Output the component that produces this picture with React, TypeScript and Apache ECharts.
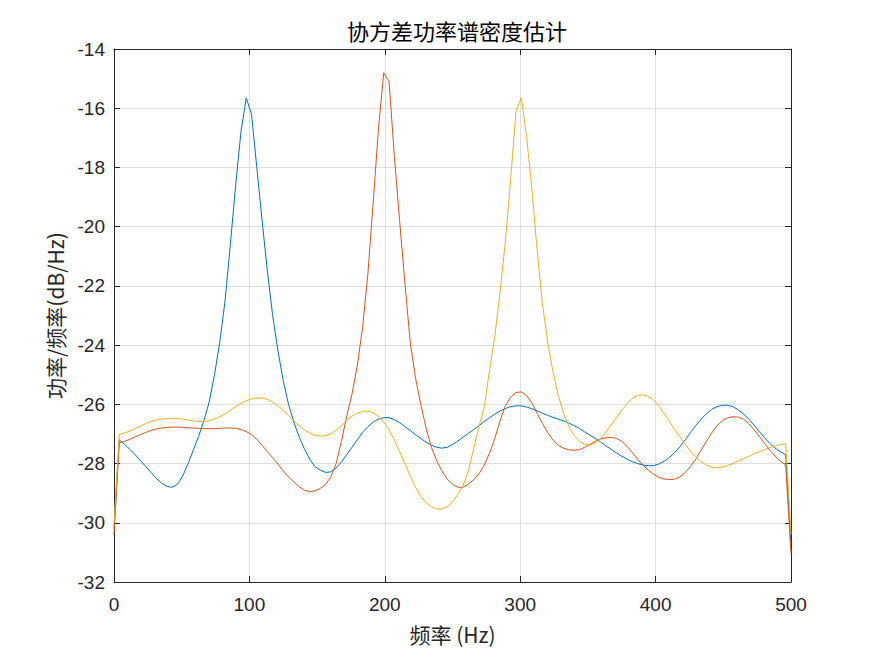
import React, { useEffect, useRef } from "react";
import * as echarts from "echarts";

// Frequency bins (Hz): 129 bins from 0 to 500 Hz
const binCount = 129;
const freqs: number[] = Array.from({ length: binCount }, (_, i) => (i * 500) / (binCount - 1));

const xTicks = [0, 100, 200, 300, 400, 500];
const yTicks = [-32, -30, -28, -26, -24, -22, -20, -18, -16, -14];

const series1: number[] = [
  -30.2, -27.2, -27.35, -27.52, -27.7, -27.9, -28.1, -28.3, -28.5, -28.66,
  -28.77, -28.8, -28.7, -28.42, -28.0, -27.55, -27.08, -26.55, -25.92, -25.0,
  -23.9, -22.5, -20.6, -18.6, -16.8, -15.65, -16.2, -18.0, -19.8, -21.5,
  -23.0, -24.2, -25.2, -26.0, -26.6, -27.1, -27.5, -27.85, -28.1, -28.22,
  -28.3, -28.28, -28.15, -27.95, -27.7, -27.45, -27.2, -26.95, -26.75, -26.6,
  -26.5, -26.45, -26.45, -26.52, -26.62, -26.75, -26.88, -27.02, -27.15, -27.28,
  -27.38, -27.45, -27.48, -27.45, -27.36, -27.24, -27.11, -26.98, -26.85, -26.72,
  -26.58, -26.45, -26.33, -26.22, -26.14, -26.08, -26.05, -26.05, -26.09, -26.15,
  -26.22, -26.3, -26.37, -26.44, -26.5, -26.56, -26.63, -26.72, -26.82, -26.93,
  -27.04, -27.15, -27.27, -27.4, -27.52, -27.64, -27.75, -27.85, -27.94, -28.0,
  -28.05, -28.07, -28.07, -28.02, -27.92, -27.8, -27.63, -27.43, -27.2, -26.95,
  -26.72, -26.5, -26.32, -26.17, -26.08, -26.03, -26.03, -26.08, -26.18, -26.32,
  -26.5, -26.7, -26.92, -27.13, -27.32, -27.48, -27.6, -27.7, -30.75,
];

const series2: number[] = [
  -30.4, -27.3, -27.25, -27.18, -27.1, -27.02, -26.95, -26.88, -26.83, -26.8,
  -26.78, -26.77, -26.77, -26.78, -26.79, -26.8, -26.81, -26.82, -26.82, -26.82,
  -26.81, -26.8, -26.8, -26.81, -26.85, -26.92, -27.02, -27.18, -27.38, -27.6,
  -27.8, -28.02, -28.25, -28.45, -28.62, -28.78, -28.9, -28.95, -28.92, -28.84,
  -28.7, -28.45, -28.0, -27.25, -26.4, -25.65, -24.7, -23.4, -21.6, -19.2,
  -16.7, -14.8, -15.1, -17.6, -19.8, -21.9, -23.9, -25.1, -26.0, -26.8,
  -27.45, -27.9, -28.25, -28.52, -28.7, -28.8, -28.8, -28.7, -28.55, -28.35,
  -28.05, -27.65, -27.15, -26.55, -26.05, -25.75, -25.6, -25.58, -25.7, -25.95,
  -26.3, -26.65, -26.95, -27.2, -27.38, -27.48, -27.54, -27.55, -27.53, -27.45,
  -27.35, -27.25, -27.17, -27.13, -27.12, -27.15, -27.25, -27.42, -27.62, -27.85,
  -28.05, -28.22, -28.36, -28.46, -28.52, -28.54, -28.53, -28.45, -28.3, -28.1,
  -27.85, -27.55, -27.25, -26.97, -26.72, -26.55, -26.45, -26.42, -26.43, -26.5,
  -26.65, -26.85, -27.08, -27.32, -27.55, -27.75, -27.92, -28.05, -31.05,
];

const series3: number[] = [
  -30.0, -27.02, -26.97, -26.9, -26.82, -26.73, -26.65, -26.58, -26.53, -26.5,
  -26.48, -26.47, -26.48, -26.5, -26.53, -26.56, -26.58, -26.58, -26.55, -26.5,
  -26.42, -26.32, -26.2, -26.08, -25.97, -25.88, -25.82, -25.79, -25.79, -25.83,
  -25.92, -26.05, -26.2, -26.37, -26.55, -26.72, -26.86, -26.97, -27.04, -27.07,
  -27.06, -27.0, -26.88, -26.72, -26.55, -26.4, -26.3, -26.24, -26.23, -26.28,
  -26.4, -26.6, -26.85, -27.2, -27.6, -28.0, -28.42, -28.8, -29.1, -29.32,
  -29.46, -29.53, -29.54, -29.45, -29.3, -29.05, -28.75, -28.25, -27.5, -26.75,
  -26.1, -24.85, -23.7, -22.2, -20.5, -18.4, -16.1, -15.65, -16.95, -18.7,
  -20.8, -22.6, -23.9, -24.9, -25.7, -26.3, -26.75, -27.05, -27.25, -27.35,
  -27.37, -27.3, -27.15, -26.95, -26.7, -26.45, -26.2, -25.98, -25.8, -25.7,
  -25.68, -25.73, -25.85, -26.05, -26.3, -26.57, -26.85, -27.1, -27.35, -27.58,
  -27.78, -27.93, -28.05, -28.12, -28.14, -28.12, -28.07, -28.0, -27.92, -27.84,
  -27.76, -27.68, -27.6, -27.53, -27.46, -27.4, -27.36, -27.33, -30.4,
];

const colors = ["#0072BD", "#D95319", "#EDB120"];
const titleText = "协方差功率谱密度估计";
const xName = "频率 (Hz)";
const yName = "功率/频率(dB/Hz)";

export default function App() {
  const ref = useRef<HTMLDivElement>(null);
  useEffect(() => {
    if (!ref.current) return;
    const chart = echarts.init(ref.current, undefined, { renderer: "svg" });
    const axisColor = "#262626";
    const gridColor = "#dfdfdf";
    const font = "'Liberation Sans', Arial, Helvetica, sans-serif";
    const cjk = "'Noto Sans CJK SC', 'Liberation Sans', sans-serif";
    const mk = (vals: number[]) => vals.map((v, i) => [freqs[i], v]);
    chart.setOption({
      animation: false,
      backgroundColor: "#ffffff",
      title: {
        text: titleText,
        left: 452,
        top: 14,
        textAlign: "center",
        textStyle: { fontFamily: cjk, fontSize: 22, fontWeight: "normal", color: "#000" },
      },
      grid: { left: 114, right: 84, top: 49, bottom: 74, containLabel: false },
      xAxis: [
        {
          type: "value",
          min: xTicks[0],
          max: xTicks[xTicks.length - 1],
          interval: 100,
          name: xName,
          nameLocation: "middle",
          nameGap: 41,
          nameTextStyle: { fontFamily: cjk, fontSize: 21, color: axisColor },
          axisLine: { show: true, onZero: false, lineStyle: { color: axisColor, width: 1 } },
          axisTick: { show: true, inside: true, length: 6, lineStyle: { color: axisColor } },
          axisLabel: { fontFamily: font, fontSize: 19, color: axisColor, margin: 13 },
          splitLine: { show: true, lineStyle: { color: gridColor, width: 1 } },
        },
        {
          type: "value",
          position: "top",
          min: xTicks[0],
          max: xTicks[xTicks.length - 1],
          interval: 100,
          axisLine: { show: true, onZero: false, lineStyle: { color: axisColor, width: 1 } },
          axisTick: { show: true, inside: true, length: 6, lineStyle: { color: axisColor } },
          axisLabel: { show: false },
          splitLine: { show: false },
        },
      ],
      yAxis: [
        {
          type: "value",
          min: yTicks[0],
          max: yTicks[yTicks.length - 1],
          interval: 2,
          name: yName,
          nameLocation: "middle",
          nameGap: 49,
          nameTextStyle: { fontFamily: cjk, fontSize: 21, color: axisColor },
          axisLine: { show: true, onZero: false, lineStyle: { color: axisColor, width: 1 } },
          axisTick: { show: true, inside: true, length: 6, lineStyle: { color: axisColor } },
          axisLabel: { fontFamily: font, fontSize: 19, color: axisColor, margin: 9 },
          splitLine: { show: true, lineStyle: { color: gridColor, width: 1 } },
        },
        {
          type: "value",
          position: "right",
          min: yTicks[0],
          max: yTicks[yTicks.length - 1],
          interval: 2,
          axisLine: { show: true, onZero: false, lineStyle: { color: axisColor, width: 1 } },
          axisTick: { show: true, inside: true, length: 6, lineStyle: { color: axisColor } },
          axisLabel: { show: false },
          splitLine: { show: false },
        },
      ],
      series: [series1, series2, series3].map((s, i) => ({
        type: "line",
        data: mk(s),
        xAxisIndex: 0,
        yAxisIndex: 0,
        showSymbol: false,
        symbol: "none",
        smooth: false,
        lineStyle: { color: colors[i], width: 1 },
        itemStyle: { color: colors[i] },
      })),
    });
    return () => chart.dispose();
  }, []);
  return <div ref={ref} style={{ width: 875, height: 656, margin: -8 }} />;
}
